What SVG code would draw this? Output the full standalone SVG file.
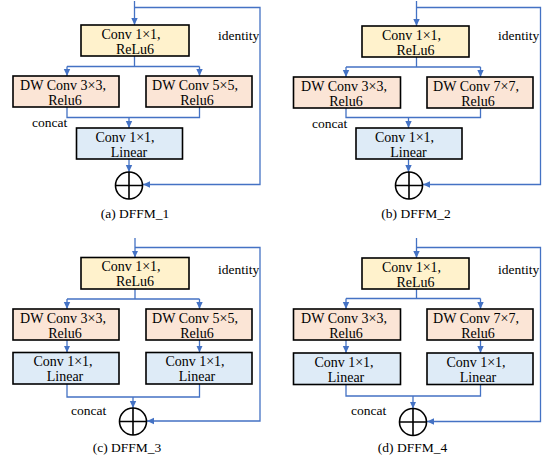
<svg xmlns="http://www.w3.org/2000/svg" width="550" height="463" viewBox="0 0 550 463" font-family="'Liberation Serif', 'Times New Roman', Times, 'DejaVu Serif', serif">
<style>
  .t { font-size: 14px; text-anchor: middle; }
  .lbl { font-size: 13.5px; }
  .cap { font-size: 13.5px; text-anchor: middle; }
  .box { stroke: #000; stroke-width: 1.6; }
  .y { fill: #FFF2CC; }
  .p { fill: #FBE5D6; }
  .b { fill: #DEEBF7; }
  .ln { fill: none; stroke: #4472C4; stroke-width: 1.3; }
  .ar { fill: none; stroke: #4472C4; stroke-width: 1.3; marker-end: url(#ah); }
  .sum { fill: #fff; stroke: #000; stroke-width: 1.6; }
</style>
<defs>
  <marker id="ah" markerWidth="8" markerHeight="8" refX="7" refY="4" orient="auto" markerUnits="userSpaceOnUse">
    <path d="M0,0.8 L7,4 L0,7.2 Z" fill="#4472C4"/>
  </marker>
</defs>
<rect width="550" height="463" fill="#fff"/>

<!-- Panel (a) -->
<g id="panel-a">
  <g id="a-connectors">
    <path class="ar" d="M134.5,1 V25"/>
    <path class="ar" d="M134.5,7.5 H260 V184.5 H143"/>
    <path class="ln" d="M134.5,56 V66.5 M67,66.5 H199.5"/>
    <path class="ar" d="M67,66.5 V76"/>
    <path class="ar" d="M199.5,66.5 V76"/>
    <path class="ln" d="M67,107 V117.5 H199.5 V107"/>
    <path class="ar" d="M129,117.5 V128"/>
    <path class="ar" d="M129,159 V172"/>
  </g>
  <g id="a-conv1"><rect class="box y" x="81" y="25" width="108" height="31"/><text class="t" x="131" y="38.5">Conv 1×1,</text><text class="t" x="135" y="53.5">ReLu6</text></g>
  <g id="a-dw3"><rect class="box p" x="13" y="76" width="106" height="31"/><text class="t" x="63" y="89.5">DW Conv 3×3,</text><text class="t" x="65" y="104.5">Relu6</text></g>
  <g id="a-dw5"><rect class="box p" x="146" y="76" width="106" height="31"/><text class="t" x="195" y="89.5">DW Conv 5×5,</text><text class="t" x="197" y="104.5">Relu6</text></g>
  <g id="a-conv2"><rect class="box b" x="76.5" y="128" width="106" height="31"/><text class="t" x="125" y="141.5">Conv 1×1,</text><text class="t" x="129" y="156.5">Linear</text></g>
  <g id="a-sum"><circle class="sum" cx="129" cy="185.5" r="13.5"/><path d="M115.5,185.5 H142.5 M129,172 V199" stroke="#000" stroke-width="1.6"/></g>
  <text class="lbl" x="32" y="127">concat</text>
  <text class="lbl" x="218" y="40">identity</text>
  <text class="cap" x="135" y="217.5">(a) DFFM_1</text>
</g>

<!-- Panel (b) -->
<g id="panel-b">
  <g id="b-connectors">
    <path class="ar" d="M416.5,1 V26"/>
    <path class="ar" d="M416.5,7.5 H540.5 V184.5 H423"/>
    <path class="ln" d="M416.5,57 V67 M346,67 H480.5"/>
    <path class="ar" d="M346,67 V77"/>
    <path class="ar" d="M480.5,67 V77"/>
    <path class="ln" d="M346,108 V117.5 H480.5 V108"/>
    <path class="ar" d="M408.5,117.5 V128"/>
    <path class="ar" d="M408.5,159 V172"/>
  </g>
  <g id="b-conv1"><rect class="box y" x="362" y="26" width="107" height="31"/><text class="t" x="411.5" y="39.5">Conv 1×1,</text><text class="t" x="415.5" y="54.5">ReLu6</text></g>
  <g id="b-dw3"><rect class="box p" x="293.5" y="77" width="107" height="31"/><text class="t" x="344" y="90.5">DW Conv 3×3,</text><text class="t" x="346" y="105.5">Relu6</text></g>
  <g id="b-dw7"><rect class="box p" x="427" y="77" width="106" height="31"/><text class="t" x="476" y="90.5">DW Conv 7×7,</text><text class="t" x="478" y="105.5">Relu6</text></g>
  <g id="b-conv2"><rect class="box b" x="356" y="128" width="106" height="31"/><text class="t" x="404.5" y="141.5">Conv 1×1,</text><text class="t" x="408.5" y="156.5">Linear</text></g>
  <g id="b-sum"><circle class="sum" cx="409" cy="185.5" r="13.5"/><path d="M395.5,185.5 H422.5 M409,172 V199" stroke="#000" stroke-width="1.6"/></g>
  <text class="lbl" x="312" y="128">concat</text>
  <text class="lbl" x="498" y="40">identity</text>
  <text class="cap" x="416" y="217.5">(b) DFFM_2</text>
</g>

<!-- Panel (c) -->
<g id="panel-c">
  <g id="c-connectors">
    <path class="ar" d="M135,238 V257.5"/>
    <path class="ar" d="M135,247.5 H260 V421 H147"/>
    <path class="ln" d="M135,289 V299 M67,299 H199.5"/>
    <path class="ar" d="M67,299 V309"/>
    <path class="ar" d="M199.5,299 V309"/>
    <path class="ar" d="M67,340 V352.5"/>
    <path class="ar" d="M199.5,340 V352.5"/>
    <path class="ln" d="M67,384 V397 H199.5 V384"/>
    <path class="ar" d="M133,397 V408"/>
  </g>
  <g id="c-conv1"><rect class="box y" x="81" y="257.5" width="108" height="31.5"/><text class="t" x="131" y="271">Conv 1×1,</text><text class="t" x="135" y="286">ReLu6</text></g>
  <g id="c-dw3"><rect class="box p" x="13" y="309" width="106" height="31"/><text class="t" x="63" y="322.5">DW Conv 3×3,</text><text class="t" x="65" y="337.5">Relu6</text></g>
  <g id="c-dw5"><rect class="box p" x="146" y="309" width="106" height="31"/><text class="t" x="195" y="322.5">DW Conv 5×5,</text><text class="t" x="197" y="337.5">Relu6</text></g>
  <g id="c-conv2a"><rect class="box b" x="13" y="352.5" width="106" height="31.5"/><text class="t" x="63" y="366">Conv 1×1,</text><text class="t" x="65" y="381">Linear</text></g>
  <g id="c-conv2b"><rect class="box b" x="146" y="352.5" width="106" height="31.5"/><text class="t" x="195" y="366">Conv 1×1,</text><text class="t" x="197" y="381">Linear</text></g>
  <g id="c-sum"><circle class="sum" cx="133" cy="421.5" r="13.5"/><path d="M119.5,421.5 H146.5 M133,408 V435" stroke="#000" stroke-width="1.6"/></g>
  <text class="lbl" x="71" y="415">concat</text>
  <text class="lbl" x="218" y="274">identity</text>
  <text class="cap" x="127" y="452">(c) DFFM_3</text>
</g>

<!-- Panel (d) -->
<g id="panel-d">
  <g id="d-connectors">
    <path class="ar" d="M416.5,238 V258"/>
    <path class="ar" d="M416.5,247.5 H540.5 V421.5 H427"/>
    <path class="ln" d="M416.5,289 V298.5 M346,298.5 H480.5"/>
    <path class="ar" d="M346,298.5 V309"/>
    <path class="ar" d="M480.5,298.5 V309"/>
    <path class="ar" d="M346,340 V353"/>
    <path class="ar" d="M480.5,340 V353"/>
    <path class="ln" d="M346,384.5 V396 H480.5 V384.5"/>
    <path class="ar" d="M413,396 V408.5"/>
  </g>
  <g id="d-conv1"><rect class="box y" x="362" y="258" width="107" height="31"/><text class="t" x="411.5" y="271.5">Conv 1×1,</text><text class="t" x="415.5" y="286.5">ReLu6</text></g>
  <g id="d-dw3"><rect class="box p" x="293.5" y="309" width="107" height="31"/><text class="t" x="344" y="322.5">DW Conv 3×3,</text><text class="t" x="346" y="337.5">Relu6</text></g>
  <g id="d-dw7"><rect class="box p" x="427" y="309" width="106" height="31"/><text class="t" x="476" y="322.5">DW Conv 7×7,</text><text class="t" x="478" y="337.5">Relu6</text></g>
  <g id="d-conv2a"><rect class="box b" x="293.5" y="353" width="107" height="31.5"/><text class="t" x="344" y="366.5">Conv 1×1,</text><text class="t" x="346" y="381.5">Linear</text></g>
  <g id="d-conv2b"><rect class="box b" x="427" y="353" width="106" height="31.5"/><text class="t" x="476" y="366.5">Conv 1×1,</text><text class="t" x="478" y="381.5">Linear</text></g>
  <g id="d-sum"><circle class="sum" cx="413" cy="422" r="13.5"/><path d="M399.5,422 H426.5 M413,408.5 V435.5" stroke="#000" stroke-width="1.6"/></g>
  <text class="lbl" x="351" y="415">concat</text>
  <text class="lbl" x="498" y="274">identity</text>
  <text class="cap" x="412.5" y="452">(d) DFFM_4</text>
</g>
</svg>
